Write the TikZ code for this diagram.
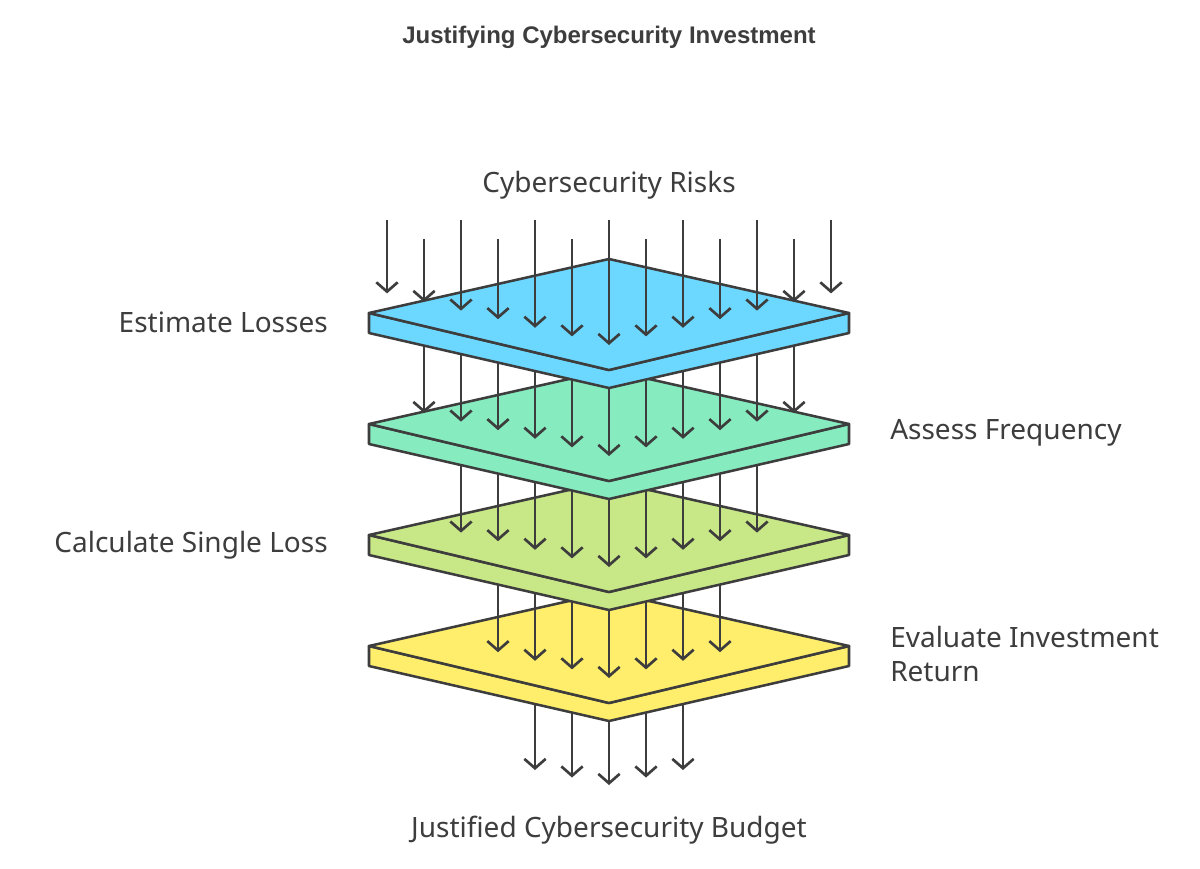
\documentclass[tikz,border=0pt]{standalone}
\usepackage{fontspec}
\setmainfont{Noto Sans}
\newfontfamily\titlefont{Liberation Sans}
\usetikzlibrary{arrows.meta,positioning}

\definecolor{ink}{HTML}{3D3D3D}
\definecolor{riskblue}{HTML}{6DD8FF}
\definecolor{freqgreen}{HTML}{86EBBE}
\definecolor{losslime}{HTML}{C8E887}
\definecolor{returnyellow}{HTML}{FFEE6B}

% one slab of the stack, #1 = y of its back corner, #2 = colour
\newcommand{\slab}[2]{%
  \draw[slabline, fill=#2] (369,#1+54) -- (369,#1+74) -- (609,#1+129) -- (849,#1+74)
    -- (849,#1+54) -- (609,#1+111) -- cycle;
  \draw[slabline, fill=#2] (609,#1) -- (849,#1+54) -- (609,#1+111) -- (369,#1+54) -- cycle;
}

\begin{document}
\begin{tikzpicture}[
  x=0.75pt, y=-0.75pt,
  slabline/.style={draw=ink, line width=1.9pt, line join=round},
  flow/.style={draw=ink, line width=2pt, -{Straight Barb[length=7pt,width=16pt]}},
  txt/.style={font=\fontsize{21}{25}\selectfont, text=ink, inner sep=0pt},
  sidetxt/.style={txt, align=left}
]
\useasboundingbox[fill=white] (0,0) rectangle (1200,868);

% title
\node[font=\titlefont\bfseries\fontsize{18}{22}\selectfont, text=ink] (title) at (609,37) {Justifying Cybersecurity Investment};

% arrows leaving the stack
\foreach \i in {-2,...,2}
  \draw[flow] ({609+37*\i},690) coordinate (out\i) -- ({609+37*\i},{785-7.5*abs(\i)}) coordinate (budget\i);

% slabs from bottom to top, each with the arrows landing on it
\slab{592}{returnyellow}
\foreach \i in {-3,...,3}
  \draw[flow] ({609+37*\i},551) -- ({609+37*\i},{592+86-8.6*abs(\i)});
\slab{481}{losslime}
\foreach \i in {-4,...,4}
  \draw[flow] ({609+37*\i},440) -- ({609+37*\i},{481+86-8.6*abs(\i)});
\slab{370}{freqgreen}
\foreach \i in {-5,...,5}
  \draw[flow] ({609+37*\i},329) -- ({609+37*\i},{370+86-8.6*abs(\i)});
\slab{259}{riskblue}
\foreach \i in {-6,...,6}{
  \pgfmathsetmacro{\starty}{isodd(\i) ? 239 : 220}
  \draw[flow] ({609+37*\i},\starty) coordinate (risk\i) -- ({609+37*\i},{259+86-8.6*abs(\i)});
}

% labels
\node[txt] (risks) at (609,185) {Cybersecurity Risks};
\node[txt, anchor=east] (estimate) at (328,322) {Estimate Losses};
\node[txt, anchor=west] (assess) at (890,433) {Assess Frequency};
\node[txt, anchor=east] (single) at (328,545) {Calculate Single Loss};
\node[sidetxt, anchor=west] (evaluate) at (890,654) {Evaluate Investment\\Return};
\node[txt] (budget) at (609,830) {Justified Cybersecurity Budget};
\end{tikzpicture}
\end{document}
